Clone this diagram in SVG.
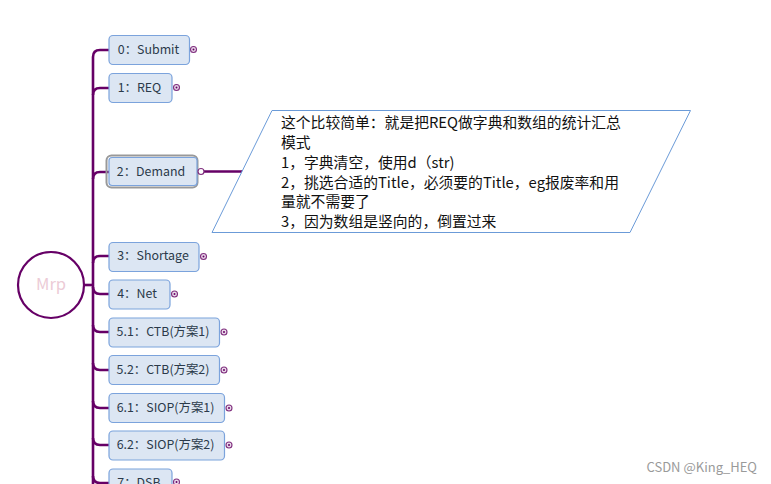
<svg xmlns="http://www.w3.org/2000/svg" width="771" height="484" viewBox="0 0 771 484">
<style>
text{font-family:"Noto Sans CJK SC","Noto Sans","Liberation Sans",sans-serif}
.c{fill:none;stroke:#660066;stroke-width:2.6}
.b{fill:#dce6f3;stroke:#7ba3dc;stroke-width:1.2}
.t{font-size:12.4px;fill:#2b3a4a;text-anchor:middle}
.m{fill:#e9d8e9;stroke:#80307f;stroke-width:1.1}
.d{fill:#660066}
.n{font-size:14.8px;fill:#111}
</style>
<rect width="771" height="484" fill="#fff"/>
<g id="connectors">
<path class="c" d="M93 484V57Q93 50 100 50H109"/>
<path class="c" d="M93 95Q93 88 100 88H109"/>
<path class="c" d="M93 179Q93 172 100 172H109"/>
<path class="c" d="M93 263Q93 256 100 256H109"/>
<path class="c" d="M93 287Q93 294 100 294H109"/>
<path class="c" d="M93 325Q93 332 100 332H109"/>
<path class="c" d="M93 363Q93 370 100 370H109"/>
<path class="c" d="M93 401Q93 408 100 408H109"/>
<path class="c" d="M93 438Q93 445 100 445H109"/>
<path class="c" d="M93 476Q93 483 100 483H109"/>
<path class="c" d="M85 285H93"/>
<path class="c" d="M204 171.500H242"/>
</g>
<g id="root"><circle cx="51" cy="285" r="33" fill="#fff" stroke="#660066" stroke-width="2.200"/><text x="51" y="290" font-size="16.500" fill="#eccbd6" text-anchor="middle">Mrp</text></g>
<g id="n0"><rect class="b" x="109" y="35.500" width="80.500" height="29" rx="4"/><text class="t" x="148.500" y="54">0：Submit</text><circle class="m" cx="193.500" cy="49.500" r="3"/><circle class="d" cx="193.500" cy="49.500" r="1"/></g>
<g id="n1"><rect class="b" x="109" y="73.500" width="63" height="29" rx="4"/><text class="t" x="139.500" y="92">1：REQ</text><circle class="m" cx="176.500" cy="87.500" r="3"/><circle class="d" cx="176.500" cy="87.500" r="1"/></g>
<g id="n2"><rect x="106.500" y="155.500" width="91" height="32" rx="5" fill="none" stroke="#999" stroke-width="2"/><rect class="b" x="109" y="157.500" width="88" height="28" rx="3"/><text class="t" x="151" y="176">2：Demand</text><circle cx="201" cy="171.500" r="3" fill="#fff" stroke="#80307f" stroke-width="1.200"/></g>
<g id="note"><polygon points="272,110.500 690.500,110.500 630,232.500 212,232.500" fill="#fff" stroke="#6b9bd8" stroke-width="1"/>
<text class="n" x="281" y="128">这个比较简单：就是把REQ做字典和数组的统计汇总</text>
<text class="n" x="281" y="148">模式</text>
<text class="n" x="281" y="167.500">1，字典清空，使用d（str)</text>
<text class="n" x="281" y="187.500">2，挑选合适的Title，必须要的Title，eg报废率和用</text>
<text class="n" x="281" y="206.500">量就不需要了</text>
<text class="n" x="281" y="226.500">3，因为数组是竖向的，倒置过来</text></g>
<g id="n3"><rect class="b" x="109" y="242.500" width="90" height="29" rx="4"/><text class="t" x="153" y="260">3：Shortage</text><circle class="m" cx="203.500" cy="256.500" r="3"/><circle class="d" cx="203.500" cy="256.500" r="1"/></g>
<g id="n4"><rect class="b" x="109" y="280" width="61" height="29" rx="4"/><text class="t" x="137" y="298">4：Net</text><circle class="m" cx="174.500" cy="294" r="3"/><circle class="d" cx="174.500" cy="294" r="1"/></g>
<g id="n51"><rect class="b" x="109" y="318" width="110.500" height="29" rx="4"/><text class="t" x="163" y="336">5.1：CTB(方案1)</text><circle class="m" cx="224" cy="332" r="3"/><circle class="d" cx="224" cy="332" r="1"/></g>
<g id="n52"><rect class="b" x="109" y="355.500" width="110.500" height="29" rx="4"/><text class="t" x="163" y="374">5.2：CTB(方案2)</text><circle class="m" cx="224" cy="370" r="3"/><circle class="d" cx="224" cy="370" r="1"/></g>
<g id="n61"><rect class="b" x="109" y="393.500" width="115.500" height="29" rx="4"/><text class="t" x="165.500" y="412">6.1：SIOP(方案1)</text><circle class="m" cx="229" cy="408" r="3"/><circle class="d" cx="229" cy="408" r="1"/></g>
<g id="n62"><rect class="b" x="109" y="431" width="115.500" height="29" rx="4"/><text class="t" x="165.500" y="449">6.2：SIOP(方案2)</text><circle class="m" cx="229" cy="445" r="3"/><circle class="d" cx="229" cy="445" r="1"/></g>
<g id="n7"><rect class="b" x="109" y="469" width="63" height="29" rx="4"/><text class="t" x="139" y="487">7：DSB</text><circle class="m" cx="176.500" cy="482" r="3"/><circle class="d" cx="176.500" cy="482" r="1"/></g>
<text x="757" y="472" font-size="13" fill="#9a9a9a" text-anchor="end">CSDN @King_HEQ</text>
</svg>
